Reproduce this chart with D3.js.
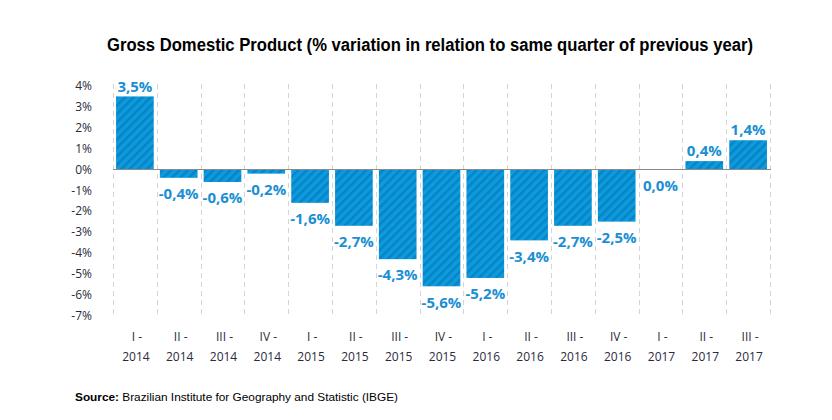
<!DOCTYPE html>
<html>
<head>
<meta charset="utf-8">
<script src="https://cdn.jsdelivr.net/npm/d3@7"></script>
<style>
  html, body { margin: 0; padding: 0; background: #fff; }
  svg { display: block; }
  .tick-label { font-family: "Open Sans", sans-serif; font-size: 12px; fill: #2b2b3b; }
  .val-label { font-family: "Open Sans", sans-serif; font-size: 15px; font-weight: 700; fill: #1a8fd3; }
</style>
</head>
<body>
<div id="chart"></div>
<script>
// Chart data
var quarters = ['I', 'II', 'III', 'IV', 'I', 'II', 'III', 'IV', 'I', 'II', 'III', 'IV', 'I', 'II', 'III'];
var years = ['2014', '2014', '2014', '2014', '2015', '2015', '2015', '2015', '2016', '2016', '2016', '2016', '2017', '2017', '2017'];
var gdpChange = [3.5, -0.4, -0.6, -0.2, -1.6, -2.7, -4.3, -5.6, -5.2, -3.4, -2.7, -2.5, 0.0, 0.4, 1.4];
var yTicks = [4, 3, 2, 1, 0, -1, -2, -3, -4, -5, -6, -7];

var W = 832, H = 420;
var svg = d3.select('#chart').append('svg').attr('width', W).attr('height', H);

// Striped fill for bars
var defs = svg.append('defs');
var pat = defs.append('pattern')
  .attr('id', 'stripes')
  .attr('patternUnits', 'userSpaceOnUse')
  .attr('width', 6).attr('height', 6)
  .attr('patternTransform', 'rotate(45)');
pat.append('rect').attr('width', 6).attr('height', 6).attr('fill', '#0a9cdd');
pat.append('rect').attr('width', 2.5).attr('height', 6).attr('fill', '#0b82c6');

var x = d3.scaleBand()
  .domain(d3.range(gdpChange.length))
  .range([113, 770])
  .paddingInner(0.14)
  .paddingOuter(0.07);

var y = d3.scaleLinear().domain([-7, 4]).range([315.5, 86]);

// Title
svg.append('text')
  .attr('x', 430).attr('y', 51)
  .attr('text-anchor', 'middle')
  .attr('textLength', 646).attr('lengthAdjust', 'spacingAndGlyphs')
  .style('font-family', '"Liberation Sans", sans-serif')
  .style('font-size', '17.5px').style('font-weight', 700).style('fill', '#000')
  .text('Gross Domestic Product (% variation in relation to same quarter of previous year)');

// Vertical dashed separators at band edges
var edges = d3.range(gdpChange.length + 1).map(function(i) { return 113 + i * (657 / gdpChange.length); });
svg.append('g').selectAll('line').data(edges).join('line')
  .attr('x1', function(d) { return Math.round(d) + 0.5; })
  .attr('x2', function(d) { return Math.round(d) + 0.5; })
  .attr('y1', 84).attr('y2', 318)
  .attr('stroke', '#d4d4d4').attr('stroke-width', 1)
  .attr('stroke-dasharray', '5,4');

// Y tick labels
svg.append('g').selectAll('text').data(yTicks).join('text')
  .attr('class', 'tick-label')
  .attr('x', 92).attr('y', function(d) { return y(d); })
  .attr('dy', '0.35em')
  .attr('text-anchor', 'end')
  .text(function(d) { return d + '%'; });

// Bars
svg.append('g').selectAll('rect').data(gdpChange).join('rect')
  .attr('x', function(d, i) { return x(i); })
  .attr('width', x.bandwidth())
  .attr('y', function(d) { return y(Math.max(0, d)); })
  .attr('height', function(d) { return Math.abs(y(d) - y(0)); })
  .attr('fill', 'url(#stripes)');

// Zero line
svg.append('line')
  .attr('x1', 113).attr('x2', 771)
  .attr('y1', Math.round(y(0)) + 0.5).attr('y2', Math.round(y(0)) + 0.5)
  .attr('stroke', '#8a8a8a').attr('stroke-width', 1);

// Value labels
svg.append('g').selectAll('text').data(gdpChange).join('text')
  .attr('class', 'val-label')
  .attr('x', function(d, i) { return x(i) + x.bandwidth() / 2; })
  .attr('y', function(d) { return d > 0 ? y(d) - 10 : y(d) + 16; })
  .attr('dy', '0.35em')
  .attr('text-anchor', 'middle')
  .text(function(d) { return d.toFixed(1).replace('.', ',') + '%'; });

// Category labels
var cat = svg.append('g');
cat.selectAll('text.q').data(quarters).join('text')
  .attr('class', 'tick-label q')
  .attr('x', function(d, i) { return x(i) + x.bandwidth() / 2 + 2; })
  .attr('y', 341)
  .attr('text-anchor', 'middle')
  .text(function(d) { return d + ' -'; });
cat.selectAll('text.yr').data(years).join('text')
  .attr('class', 'tick-label yr')
  .attr('x', function(d, i) { return x(i) + x.bandwidth() / 2 + 1; })
  .attr('y', 361)
  .attr('text-anchor', 'middle')
  .text(function(d) { return d; });

// Source note
var src = svg.append('text')
  .attr('x', 75).attr('y', 401)
  .attr('textLength', 323).attr('lengthAdjust', 'spacingAndGlyphs')
  .style('font-family', '"Liberation Sans", sans-serif')
  .style('font-size', '11.5px').style('fill', '#000');
src.append('tspan').style('font-weight', 700).text('Source:');
src.append('tspan').text(' Brazilian Institute for Geography and Statistic (IBGE)');
</script>
</body>
</html>
